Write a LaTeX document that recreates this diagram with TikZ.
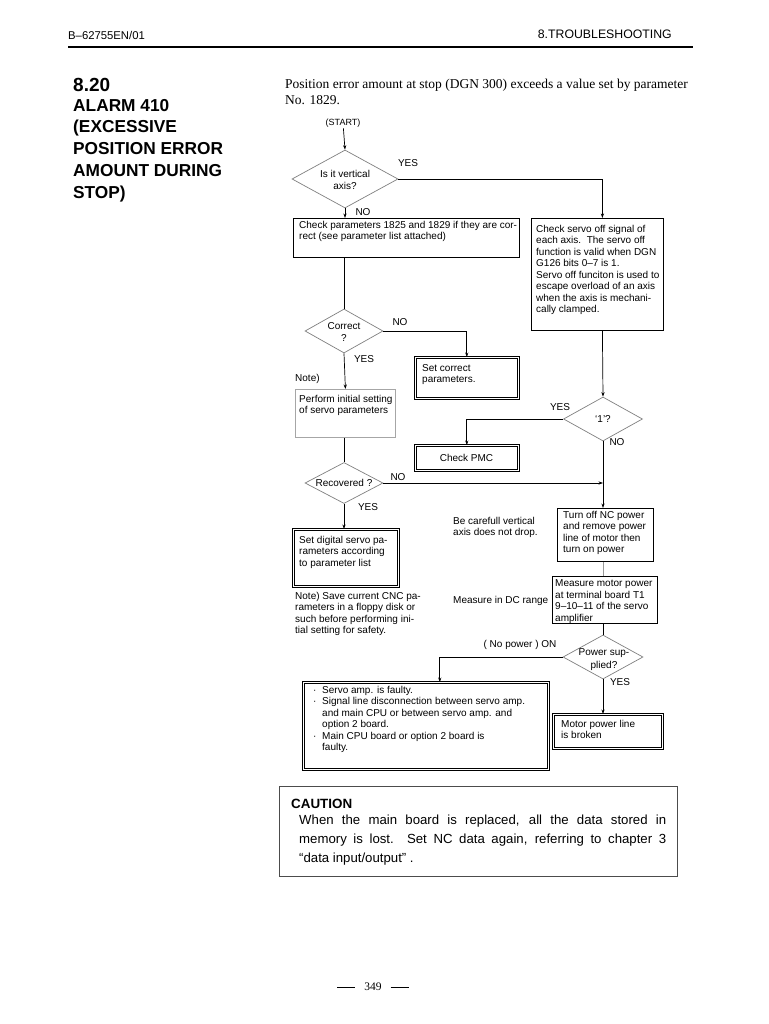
\documentclass[tikz,border=0pt]{standalone}
\usepackage{fontspec}
\setmainfont{Liberation Serif}
\newfontfamily\chartfont[Ligatures=TeX]{Liberation Sans}
\usetikzlibrary{shapes.geometric,arrows.meta}
\newcommand{\bul}{\makebox[9pt][l]{\textperiodcentered}}
\newcommand{\ind}{\hspace*{9pt}}
\begin{document}
\begin{tikzpicture}[x=1pt,y=-1pt,
  cf/.style={font=\chartfont\fontsize{10pt}{11.5pt}\selectfont},
  box/.style={draw,line width=0.8pt,inner sep=0pt,anchor=north west},
  dbox/.style={box,double,double distance=1.4pt,line width=0.6pt},
  gbox/.style={box,draw=black!35},
  txt/.style={cf,inner sep=0pt,anchor=north west,align=left},
  dia/.style={diamond,draw=black!50,line width=0.7pt,inner sep=0pt},
  lbl/.style={cf,inner sep=0pt,align=center},
  con/.style={line width=0.7pt},
  arr/.style={con,-{Stealth[length=4.5pt,width=3.2pt]}}]
\useasboundingbox (0,0) rectangle (768,1024);
\fill[white] (0,0) rectangle (768,1024);

% header
\node[font=\chartfont\fontsize{11.3pt}{13pt}\selectfont,anchor=west,inner sep=0] (hdl) at (68,35) {B--62755EN/01};
\node[font=\chartfont\fontsize{12.3pt}{14pt}\selectfont,anchor=east,inner sep=0] (hdr) at (672,34) {8.TROUBLESHOOTING};
\draw[line width=1.6pt] (68,47) -- (693,47);

% title
\node[font=\chartfont\bfseries\fontsize{19pt}{21pt}\selectfont,anchor=west,inner sep=0] (sec) at (73,85) {8.20};
\node[font=\chartfont\bfseries\fontsize{17.3pt}{21.7pt}\selectfont,anchor=north west,inner sep=0,align=left] (ttl) at (73,99)
  {ALARM 410\\(EXCESSIVE\\POSITION ERROR\\AMOUNT DURING\\STOP)};

% intro
\node[font=\fontsize{13.5pt}{15.5pt}\selectfont,anchor=north west,inner sep=0,align=left] (intro) at (285,79)
  {Position error amount at stop (DGN 300) exceeds a value set by parameter\\No. 1829.};

% flowchart
\node[font=\chartfont\fontsize{9pt}{10pt}\selectfont,inner sep=1pt] (start) at (343,123) {(START)};
\node[dia,minimum width=106pt,minimum height=58pt] (d1) at (345,179) {};
\node[lbl] (d1t) at (345,180) {Is it vertical\\axis?};
\node[lbl] (yes1) at (408,163) {YES};
\node[lbl] (no1) at (363,212) {NO};

\node[box,minimum width=226pt,minimum height=39pt] (b1) at (293,218) {};
\node[txt] (b1t) at (299,221) {Check parameters 1825 and 1829 if they are cor-\\rect (see parameter list attached)};
\node[box,minimum width=132pt,minimum height=112pt] (b2) at (531,218) {};
\node[txt] (b2t) at (536,225) {Check servo off signal of\\each axis.\ \ The servo off\\function is valid when DGN\\G126 bits 0--7 is 1.\\Servo off funciton is used to\\escape overload of an axis\\when the axis is mechani-\\cally clamped.};

\node[dia,minimum width=78pt,minimum height=44pt] (d2) at (344,331) {};
\node[lbl] (d2t) at (344,332) {Correct\\?};
\node[lbl] (no2) at (400,322) {NO};
\node[lbl] (yes2) at (364,359) {YES};
\node[lbl,anchor=west] (note1) at (295,379) {Note)};

\node[dbox,minimum width=103pt,minimum height=41pt] (b3) at (415,357) {};
\node[txt] (b3t) at (422,364) {Set correct\\parameters.};
\node[gbox,minimum width=100pt,minimum height=48pt] (b4) at (295,389) {};
\node[txt] (b4t) at (299,395) {Perform initial setting\\of servo parameters};

\node[dia,minimum width=79pt,minimum height=44pt] (d3) at (603,419) {};
\node[lbl] (d3t) at (603,419) {`1'?};
\node[lbl] (yes3) at (560,407) {YES};
\node[lbl] (no3) at (617,442) {NO};
\node[dbox,minimum width=103pt,minimum height=25pt] (b5) at (415,445) {};
\node[lbl] (b5t) at (466.5,457.5) {Check PMC};

\node[dia,minimum width=78pt,minimum height=41pt] (d4) at (344,483) {};
\node[lbl] (d4t) at (344,483) {Recovered ?};
\node[lbl] (no4) at (398,477) {NO};
\node[lbl] (yes4) at (368,507) {YES};

\node[box,minimum width=96pt,minimum height=53pt] (b7) at (557,508) {};
\node[txt] (b7t) at (563,511) {Turn off NC power\\and remove power\\line of motor then\\turn on power};
\node[txt] (care) at (453,517) {Be carefull vertical\\axis does not drop.};
\node[dbox,minimum width=105pt,minimum height=57pt] (b6) at (293,529) {};
\node[txt] (b6t) at (299,536) {Set digital servo pa-\\rameters according\\to parameter list};
\node[txt] (note2) at (295,592) {Note) Save current CNC pa-\\rameters in a floppy disk or\\such before performing ini-\\tial setting for safety.};

\node[box,minimum width=105pt,minimum height=47pt] (b8) at (552,576) {};
\node[txt] (b8t) at (555,579.5) {Measure motor power\\at terminal board T1\\9--10--11 of the servo\\amplifier};
\node[lbl,anchor=west] (dc) at (453,601) {Measure in DC range};

\node[dia,minimum width=80pt,minimum height=44pt] (d5) at (603,657) {};
\node[lbl,font=\chartfont\fontsize{10pt}{13pt}\selectfont] (d5t) at (604,660) {Power sup-\\plied?};
\node[lbl] (on) at (520,645) {( No power ) ON};
\node[lbl] (yes5) at (620,682) {YES};

\node[dbox,minimum width=245pt,minimum height=87pt] (b10) at (303,682) {};
\node[txt] (b10t) at (313,686) {\bul Servo amp. is faulty.\\\bul Signal line disconnection between servo amp.\\\ind and main CPU or between servo amp. and\\\ind option 2 board.\\\bul Main CPU board or option 2 board is\\\ind faulty.};
\node[dbox,minimum width=109pt,minimum height=34pt] (b9) at (553,714) {};
\node[txt] (b9t) at (561,720) {Motor power line\\is broken};

% caution
\node[draw=black!70,line width=0.8pt,anchor=north west,inner sep=0pt,minimum width=398pt,minimum height=90pt] (cau) at (279,786) {};
\node[font=\chartfont\bfseries\fontsize{13.4pt}{15pt}\selectfont,anchor=west,inner sep=0] (caut) at (291,804) {CAUTION};
\node[font=\chartfont\fontsize{13.2pt}{19pt}\selectfont,anchor=north west,inner sep=0,text width=367pt,align=justify] (caub) at (299,815)
  {When the main board is replaced, all the data stored in\linebreak memory is lost.\ \ Set NC data again, referring to chapter 3\linebreak ``data input/output''\ .};

% page number
\node[font=\fontsize{11.5pt}{13pt}\selectfont,inner sep=0] (pg) at (373,987) {\raisebox{3.5pt}{\rule{18pt}{0.6pt}}\hspace{9pt}349\hspace{9pt}\raisebox{3.5pt}{\rule{18pt}{0.6pt}}};

% connectors
\draw[arr] (start) -- (d1.north);
\draw[arr] (d1.east) -| ([xshift=5pt]b2.north);
\draw[arr] (d1.south) -- (d1.south |- b1.north);
\draw[con] (d2.north |- b1.south) -- (d2.north);
\draw[arr] (d2.east) -| (b3.north);
\draw[arr] (d2.south) -- (b4.north);
\draw[con] (d4.north |- b4.south) -- (d4.north);
\draw[arr] ([xshift=5pt]b2.south) -- (d3.north);
\draw[arr] (d3.west) -| (b5.north);
\draw[arr] (d3.south) -- (d3.south |- b7.north);
\draw[arr] (d4.east) -- (d4.east -| d3.south);
\draw[arr] (d4.south) -- (d4.south |- b6.north);
\draw[con,draw=black!40] (d5.north |- b7.south) -- (d5.north |- b8.north);
\draw[con] (d5.north |- b8.south) -- (d5.north);
\draw[arr] (d5.west) -| ([xshift=14pt]b10.north);
\draw[arr] (d5.south) -- (d5.south |- b9.north);
\end{tikzpicture}
\end{document}
